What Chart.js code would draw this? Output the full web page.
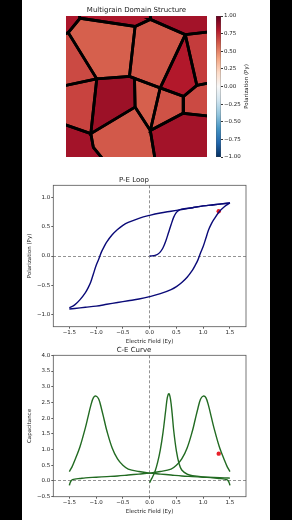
<!DOCTYPE html>
<html>
<head>
<meta charset="utf-8">
<script src="https://cdn.jsdelivr.net/npm/chart.js@4.4.1/dist/chart.umd.min.js"></script>
<style>
  body { margin: 0; background: #000; width: 292px; height: 520px; position: relative; overflow: hidden; }
  #sheet { position: absolute; left: 22px; top: 0; width: 248px; height: 520px; background: #fff; }
  canvas { position: absolute; }
</style>
</head>
<body>
<div id="sheet"></div>
<canvas id="grains" width="160" height="165" style="left:56px;top:0"></canvas>
<canvas id="cbar" width="62" height="165" style="left:208px;top:0"></canvas>
<canvas id="pe" width="248" height="180" style="left:22px;top:166px"></canvas>
<canvas id="ce" width="248" height="180" style="left:22px;top:336px"></canvas>
<script>
// grain map (x right, y down, 0..50 grid), one polygon per grain
const grainX = [
  [-1, 4.5, 5, 0.8, -1],
  [-1, 0.8, 10.9, -1],
  [5, 24.5, 22.5, 10.9, 0.8],
  [4.5, 30, 29.9, 24.5, 5],
  [30, 51, 51, 42.3, 29.9],
  [24.5, 29.9, 42.3, 33.4, 24.3, 22.5],
  [42.3, 46.4, 41.7, 33.4],
  [42.3, 51, 51, 46.4],
  [46.4, 51, 51, 41.5, 41.7],
  [33.4, 41.7, 41.5, 29.9],
  [29.9, 41.5, 51, 51, 31.6],
  [24.3, 33.4, 29.9, 24.5],
  [10.9, 22.5, 24.3, 24.5, 8.8],
  [-1, 10.9, 8.8, -1],
  [-1, 8.8, 9.7, 13.3, -1],
  [8.8, 24.5, 29.9, 31.6, 13.3, 9.7]
];
const grainY = [
  [-1, -1, 0.8, 5.9, 6.6],
  [6.6, 5.9, 22.3, 24.8],
  [0.8, 3.7, 21.4, 22.3, 5.9],
  [-1, -1, 1.2, 3.7, 0.8],
  [-1, -1, 5.6, 6.6, 1.2],
  [3.7, 1.2, 6.6, 25.5, 22.1, 21.4],
  [6.6, 24.6, 28.5, 25.5],
  [6.6, 5.6, 23.7, 24.6],
  [24.6, 23.7, 35.5, 34.5, 28.5],
  [25.5, 28.5, 34.5, 40.6],
  [40.6, 34.5, 35.5, 51, 51],
  [22.1, 25.5, 40.6, 32.3],
  [22.3, 21.4, 22.1, 32.3, 41.7],
  [24.8, 22.3, 41.7, 38.3],
  [38.3, 41.7, 46.6, 51, 51],
  [41.7, 32.3, 40.6, 51, 51, 46.6]
];
const grainPol = [0.82, 0.66, 0.6, 0.82, 0.84, 0.62, 0.8, 0.7, 0.66, 0.64, 0.84, 0.6, 0.86, 0.68, 0.84, 0.62];
const cbarTicks = [-1, 1];

// P-E loop
const peInitE = [0, 0.05, 0.1, 0.15, 0.2, 0.25, 0.3, 0.35, 0.4, 0.45, 0.5, 0.55, 0.6, 0.8, 1.0, 1.2, 1.5];
const peInitP = [0, 0.003, 0.01, 0.03, 0.07, 0.14, 0.25, 0.39, 0.53, 0.66, 0.74, 0.78, 0.795, 0.82, 0.85, 0.87, 0.9];
const peDownE = [1.5, 1.4, 1.2, 1.0, 0.8, 0.6, 0.4, 0.2, 0.0, -0.2, -0.4, -0.5, -0.6, -0.7, -0.8, -0.85, -0.9, -0.95, -1.0, -1.05, -1.1, -1.15, -1.2, -1.3, -1.4, -1.5];
const peDownP = [0.9, 0.89, 0.87, 0.85, 0.82, 0.79, 0.76, 0.73, 0.69, 0.64, 0.57, 0.52, 0.45, 0.36, 0.24, 0.16, 0.07, -0.05, -0.16, -0.3, -0.44, -0.54, -0.62, -0.74, -0.83, -0.88];
const peUpE = [-1.5, -1.4, -1.2, -1.0, -0.8, -0.6, -0.4, -0.2, 0.0, 0.2, 0.4, 0.5, 0.6, 0.7, 0.8, 0.85, 0.9, 0.95, 1.0, 1.05, 1.1, 1.15, 1.2, 1.3, 1.4, 1.5];
const peUpP = [-0.9, -0.89, -0.87, -0.85, -0.82, -0.79, -0.76, -0.73, -0.69, -0.64, -0.57, -0.52, -0.45, -0.36, -0.24, -0.16, -0.07, 0.05, 0.16, 0.3, 0.44, 0.54, 0.62, 0.75, 0.84, 0.9];
const peNowE = [1.29];
const peNowP = [0.76];

// C-E curve
const ceInitE = [0, 0.03, 0.06, 0.1, 0.15, 0.2, 0.25, 0.3, 0.33, 0.36, 0.39, 0.42, 0.45, 0.5, 0.55, 0.6, 0.7, 0.8, 1.0, 1.2, 1.4, 1.5];
const ceInitC = [-0.05, 0.05, 0.15, 0.3, 0.6, 1.0, 1.55, 2.25, 2.65, 2.78, 2.6, 2.15, 1.6, 0.95, 0.55, 0.35, 0.22, 0.17, 0.13, 0.11, 0.1, 0.09];
const ceDownE = [1.5, 1.49, 1.47, 1.44, 1.4, 1.3, 1.2, 1.0, 0.8, 0.6, 0.4, 0.2, 0.0, -0.2, -0.4, -0.5, -0.6, -0.7, -0.8, -0.85, -0.9, -0.95, -1.0, -1.05, -1.1, -1.15, -1.2, -1.3, -1.4, -1.45, -1.5];
const ceDownC = [-0.14, -0.08, 0.0, 0.04, 0.06, 0.08, 0.1, 0.12, 0.14, 0.16, 0.19, 0.22, 0.25, 0.3, 0.38, 0.5, 0.7, 1.05, 1.6, 1.95, 2.3, 2.6, 2.7, 2.65, 2.4, 2.05, 1.7, 1.1, 0.65, 0.45, 0.3];
const ceUpE = [-1.5, -1.49, -1.47, -1.44, -1.4, -1.3, -1.2, -1.0, -0.8, -0.6, -0.4, -0.2, 0.0, 0.2, 0.4, 0.5, 0.6, 0.7, 0.8, 0.85, 0.9, 0.95, 1.0, 1.05, 1.1, 1.15, 1.2, 1.3, 1.4, 1.45, 1.5];
const ceUpC = [-0.14, -0.08, 0.0, 0.04, 0.06, 0.08, 0.1, 0.12, 0.14, 0.16, 0.19, 0.22, 0.25, 0.3, 0.38, 0.5, 0.7, 1.05, 1.6, 1.95, 2.3, 2.6, 2.7, 2.65, 2.4, 2.05, 1.7, 1.1, 0.65, 0.45, 0.3];
const ceNowE = [1.29];
const ceNowC = [0.87];

Chart.defaults.font.family = "'DejaVu Sans', sans-serif";
Chart.defaults.font.size = 5.5;
Chart.defaults.color = '#222';

const rdbu = ['#053061', '#2166ac', '#4393c3', '#92c5de', '#d1e5f0', '#f7f7f7',
  '#fddbc7', '#f4a582', '#d6604d', '#b2182b', '#67001f'];

function hex(c) {
  return [1, 3, 5].map(i => parseInt(c.substr(i, 2), 16));
}

function cmap(v) {
  const t = (v + 1) / 2 * 10;
  const i = Math.max(0, Math.min(9, Math.floor(t)));
  const f = t - i;
  const a = hex(rdbu[i]), b = hex(rdbu[i + 1]);
  const rgb = a.map((x, k) => Math.round(x + (b[k] - x) * f));
  return `rgb(${rgb.join(',')})`;
}

function pts(xs, ys) {
  return xs.map((x, i) => ({ x, y: ys[i] }));
}

function fmt(v) {
  return v.toFixed(1).replace('-', '\u2212');
}

const frame = {
  id: 'frame',
  afterDatasetsDraw(chart) {
    const a = chart.chartArea, ctx = chart.ctx;
    ctx.save();
    ctx.strokeStyle = '#555';
    ctx.lineWidth = 0.8;
    ctx.strokeRect(a.left, a.top, a.right - a.left, a.bottom - a.top);
    ctx.restore();
  }
};

// grain map
new Chart(document.getElementById('grains'), {
  type: 'scatter',
  data: {
    datasets: grainX.map((xs, i) => ({
      data: pts(xs.concat([xs[0]]), grainY[i].concat([grainY[i][0]])),
      showLine: true,
      fill: 'shape',
      backgroundColor: cmap(grainPol[i]),
      borderColor: '#000',
      borderWidth: 2.8,
      pointRadius: 0,
      tension: 0,
      clip: 0
    }))
  },
  options: {
    responsive: false,
    animation: false,
    layout: { padding: { left: 10, right: 9, bottom: 8 } },
    plugins: {
      legend: { display: false },
      tooltip: { enabled: false },
      filler: { drawTime: 'beforeDatasetsDraw' },
      title: {
        display: true, text: 'Multigrain Domain Structure', color: '#222',
        font: { size: 7, weight: 'normal' }, padding: { top: 6, bottom: 1.6 }
      }
    },
    scales: {
      x: { type: 'linear', min: 0, max: 50, display: false },
      y: { type: 'linear', min: 0, max: 50, reverse: true, display: false }
    }
  }
});

// colour bar
const cbarLabel = {
  id: 'cbarLabel',
  afterDraw(chart) {
    const ctx = chart.ctx, a = chart.chartArea;
    ctx.save();
    ctx.translate(39, (a.top + a.bottom) / 2);
    ctx.rotate(-Math.PI / 2);
    ctx.font = "5.5px 'DejaVu Sans'";
    ctx.fillStyle = '#222';
    ctx.textAlign = 'center';
    ctx.textBaseline = 'middle';
    ctx.fillText('Polarization (Py)', 0, 0);
    ctx.restore();
  }
};

new Chart(document.getElementById('cbar'), {
  type: 'bar',
  data: {
    labels: [''],
    datasets: [{
      data: [cbarTicks],
      barPercentage: 1,
      categoryPercentage: 1,
      borderColor: '#444',
      borderWidth: 0.6,
      borderSkipped: false,
      backgroundColor(ctx) {
        const a = ctx.chart.chartArea;
        if (!a) return '#ccc';
        const g = ctx.chart.ctx.createLinearGradient(0, a.bottom, 0, a.top);
        rdbu.forEach((c, k) => g.addColorStop(k / 10, c));
        return g;
      }
    }]
  },
  options: {
    responsive: false,
    animation: false,
    layout: { padding: { left: 8, top: 16, bottom: 8 } },
    plugins: { legend: { display: false }, tooltip: { enabled: false } },
    scales: {
      x: { display: false },
      y: {
        position: 'right', min: -1, max: 1,
        ticks: { stepSize: 0.25, padding: 1, callback: v => v.toFixed(2).replace('-', '\u2212') },
        grid: { drawOnChartArea: false, tickLength: 2, tickColor: '#333' },
        border: { display: false },
        afterFit(s) { s.width = 49; }
      }
    }
  },
  plugins: [cbarLabel]
});

function axes(yMin, yMax, yTitle) {
  const zeroGrid = {
    color: c => (c.tick && c.tick.value === 0 ? '#777' : 'rgba(0,0,0,0)'),
    lineWidth: 0.8,
    tickColor: '#333',
    tickLength: 2
  };
  return {
    x: {
      type: 'linear', min: -1.8, max: 1.8,
      ticks: { stepSize: 0.5, includeBounds: false, padding: 1, maxRotation: 0, autoSkip: false, callback: fmt },
      grid: zeroGrid,
      border: { display: false, dash: [3, 2] },
      title: { display: true, text: 'Electric Field (Ey)', font: { size: 5.5 }, padding: { top: 0, bottom: 1 } },
      afterFit(s) { s.height = 19.3; }
    },
    y: {
      type: 'linear', min: yMin, max: yMax,
      ticks: { stepSize: 0.5, includeBounds: false, padding: 1, autoSkip: false, callback: fmt },
      grid: zeroGrid,
      border: { display: false, dash: [3, 2] },
      title: { display: true, text: yTitle, font: { size: 5.5 }, padding: { top: 4, bottom: 0 } },
      afterFit(s) { s.width = 31.3; }
    }
  };
}

function opts(title, yMin, yMax, yTitle) {
  return {
    responsive: false,
    animation: false,
    layout: { padding: { right: 24 } },
    plugins: {
      legend: { display: false },
      tooltip: { enabled: false },
      title: {
        display: true, text: title, color: '#222',
        font: { size: 7, weight: 'normal' }, padding: { top: 9.5, bottom: 1.4 }
      }
    },
    scales: axes(yMin, yMax, yTitle)
  };
}

function curve(xs, ys, color) {
  return { data: pts(xs, ys), showLine: true, borderColor: color, borderWidth: 1.4, pointRadius: 0, tension: 0.35 };
}

function marker(xs, ys) {
  return { data: pts(xs, ys), pointRadius: 2.2, backgroundColor: '#e8202a', borderWidth: 0 };
}

const navy = '#0a0a78';
new Chart(document.getElementById('pe'), {
  type: 'scatter',
  data: {
    datasets: [
      curve(peInitE, peInitP, navy),
      curve(peDownE, peDownP, navy),
      curve(peUpE, peUpP, navy),
      marker(peNowE, peNowP)
    ]
  },
  options: opts('P-E Loop', -1.2, 1.2, 'Polarization (Py)'),
  plugins: [frame]
});

const green = '#226b22';
new Chart(document.getElementById('ce'), {
  type: 'scatter',
  data: {
    datasets: [
      curve(ceInitE, ceInitC, green),
      curve(ceDownE, ceDownC, green),
      curve(ceUpE, ceUpC, green),
      marker(ceNowE, ceNowC)
    ]
  },
  options: opts('C-E Curve', -0.5, 4.0, 'Capacitance'),
  plugins: [frame]
});
</script>
</body>
</html>
